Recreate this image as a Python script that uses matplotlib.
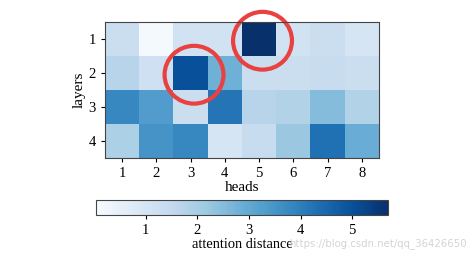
import numpy as np
import matplotlib
matplotlib.use("Agg")
import matplotlib.pyplot as plt
from matplotlib.patches import Ellipse

plt.rcParams['font.family'] = ['Liberation Serif', 'DejaVu Serif']

heads = [1, 2, 3, 4, 5, 6, 7, 8]
layers = [1, 2, 3, 4]
dist_l1 = [1.3, 0.1, 1.1, 1.1, 5.7, 1.1, 1.3, 1.0]
dist_l2 = [1.7, 1.2, 5.0, 2.8, 1.3, 1.3, 1.4, 1.3]
dist_l3 = [3.8, 3.3, 1.3, 4.2, 1.7, 1.8, 2.5, 1.8]
dist_l4 = [1.9, 3.5, 3.8, 1.0, 1.4, 2.2, 4.3, 2.9]
cbar_ticks = [1, 2, 3, 4, 5]
marked = [(0, 4), (1, 2)]  # (layer idx, head idx) circled in red

data = np.array([dist_l1, dist_l2, dist_l3, dist_l4])

fig = plt.figure(figsize=(4.74, 2.58), dpi=100)
ax = fig.add_axes([0.2215, 0.3876, 0.578, 0.527])
im = ax.imshow(data, cmap='Blues', vmin=0.03, vmax=5.7, aspect='auto')
ax.set_xticks(range(len(heads)))
ax.set_xticklabels(heads)
ax.set_yticks(range(len(layers)))
ax.set_yticklabels(layers)
ax.tick_params(labelsize=10.5, length=3)
ax.set_xlabel('heads', fontsize=11, labelpad=1)
ax.set_ylabel('layers', fontsize=11, labelpad=2)
for s in ax.spines.values():
    s.set_edgecolor('#444444')

# hand-drawn red circles
for r, c in marked:
    e = Ellipse((c + 0.1, r + 0.05), 1.72, 1.7, fill=False,
                edgecolor='#e8413f', linewidth=3, clip_on=False)
    ax.add_patch(e)

cax = fig.add_axes([0.202, 0.1667, 0.617, 0.058])
cb = fig.colorbar(im, cax=cax, orientation='horizontal', ticks=cbar_ticks)
cb.ax.tick_params(labelsize=10.5, length=3)
cb.outline.set_edgecolor('#444444')
cb.set_label('attention distance', fontsize=10.4, labelpad=1)

fig.text(0.985, 0.035, 'https://blog.csdn.net/qq_36426650', color='#d4d4d4',
         fontsize=7.3, ha='right', va='bottom', family='DejaVu Sans')

fig.savefig('out.png', dpi=100)
